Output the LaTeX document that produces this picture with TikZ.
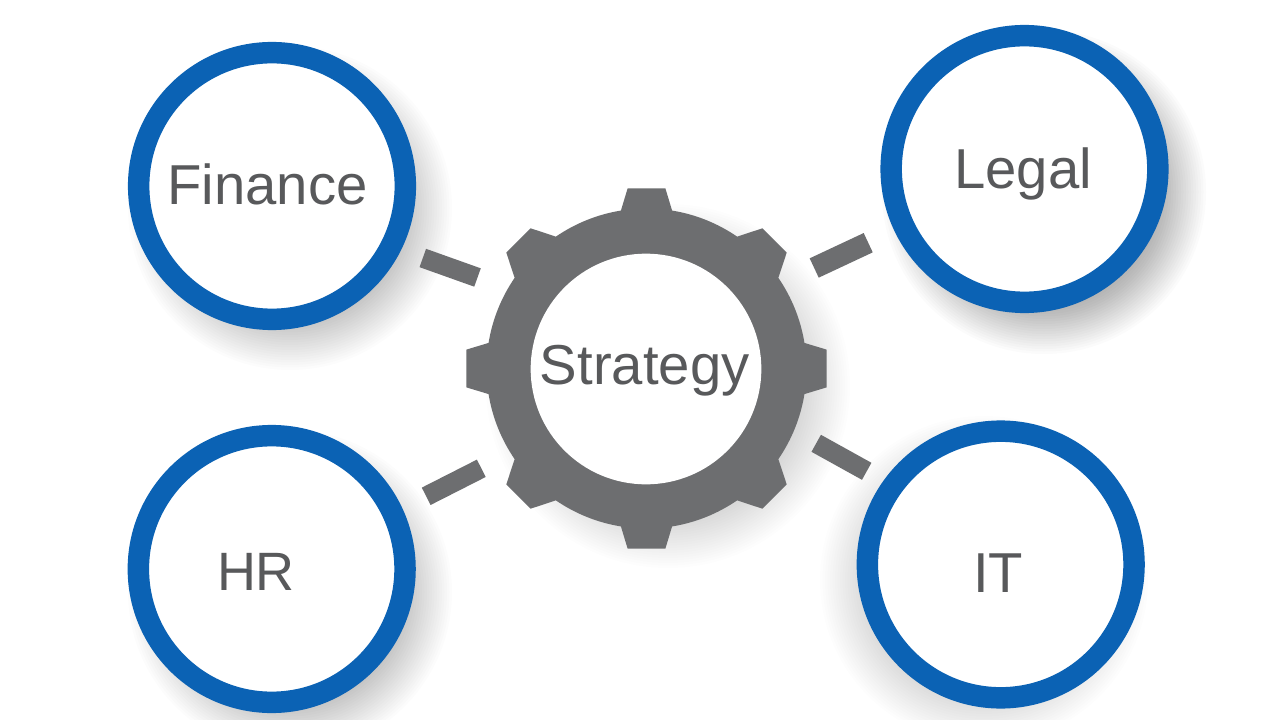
\documentclass[tikz,border=0pt]{standalone}
\usepackage{fontspec}
\setmainfont{Liberation Sans}
\definecolor{ringblue}{HTML}{0B62B4}
\definecolor{geargray}{HTML}{6D6E70}
\definecolor{labelgray}{HTML}{58595B}
\tikzset{
  ring/.style={circle,draw=ringblue,line width=16.1pt,fill=white,minimum size=200pt,inner sep=0pt,outer sep=0pt},
  hub/.style={circle,fill=white,minimum size=173pt,inner sep=0pt,outer sep=0pt},
  caption/.style={anchor=base,inner sep=0pt,outer sep=0pt,text=labelgray,font=\fontsize{42.2pt}{43pt}\selectfont},
  bar/.style={draw=geargray,line width=14.6pt,line cap=butt},
  softshadow/.style={fill=black,draw=none}
}
% x, y of shadow centre; radius of the solid core; opacity per layer
\newcommand{\softdisc}[4]{%
  \foreach \k in {0,...,23}{\fill[softshadow,fill opacity=#4] (#1,#2) circle[radius={#3+60-\k*2.5}];}%
}
\begin{document}
\begin{tikzpicture}[x=0.75pt,y=-0.75pt]
\useasboundingbox (0,0) rectangle (1280,720);
\fill[white] (0,0) rectangle (1280,720);
% soft shadows
\softdisc{290}{208}{102}{0.011}
\softdisc{1044}{192}{102}{0.015}
\softdisc{290}{592}{102}{0.012}
\softdisc{984}{580}{104}{0.007}
\softdisc{668}{386}{122}{0.008}
% gear body
\begin{scope}[shift={(646.5,368.5)}]
\fill[geargray]
  (-9.2:160) -- (-6:181) -- (6:181) -- (9.2:160)
  arc[start angle=9.2,end angle=34.5,radius=160]
  -- (39.6:182) -- (50.4:182) -- (55.5:160)
  arc[start angle=55.5,end angle=80.8,radius=160]
  -- (84:181) -- (96:181) -- (99.2:160)
  arc[start angle=99.2,end angle=124.5,radius=160]
  -- (129.6:182) -- (140.4:182) -- (145.5:160)
  arc[start angle=145.5,end angle=170.8,radius=160]
  -- (174:181) -- (186:181) -- (189.2:160)
  arc[start angle=189.2,end angle=214.5,radius=160]
  -- (219.6:182) -- (230.4:182) -- (235.5:160)
  arc[start angle=235.5,end angle=260.8,radius=160]
  -- (264:181) -- (276:181) -- (279.2:160)
  arc[start angle=279.2,end angle=304.5,radius=160]
  -- (309.6:182) -- (320.4:182) -- (325.5:160)
  arc[start angle=325.5,end angle=350.8,radius=160] -- cycle;
\end{scope}
% nodes
\node[hub] (strategy) at (646,369) {};
\node[ring] (finance) at (272,186) {};
\node[ring] (legal) at (1024.5,169) {};
\node[ring] (hr) at (271.7,569) {};
\node[ring] (it) at (1000.7,564.5) {};
% labels
\node[caption] (strategylabel) at (644.7,384.3) {Strategy};
\node[caption] (financelabel) at (267.5,204.5) {Finance};
\node[caption] (legallabel) at (1023,188.3) {Legal};
\node[caption,font=\fontsize{40.5pt}{41pt}\selectfont] (hrlabel) at (256,590) {HR};
\node[caption] (itlabel) at (998,592.3) {IT};
% connector bars
\coordinate (fa) at (422.8,258); \coordinate (fb) at (477.5,277.5);
\coordinate (la) at (814.2,268); \coordinate (lb) at (868.2,242.7);
\coordinate (ha) at (426.2,496.3); \coordinate (hb) at (481.3,468.3);
\coordinate (ia) at (816.2,443.3); \coordinate (ib) at (866.7,471.3);
\draw[bar] (fa) -- (fb);
\draw[bar,line width=16pt] (la) -- (lb);
\draw[bar] (ha) -- (hb);
\draw[bar] (ia) -- (ib);
\end{tikzpicture}
\end{document}
